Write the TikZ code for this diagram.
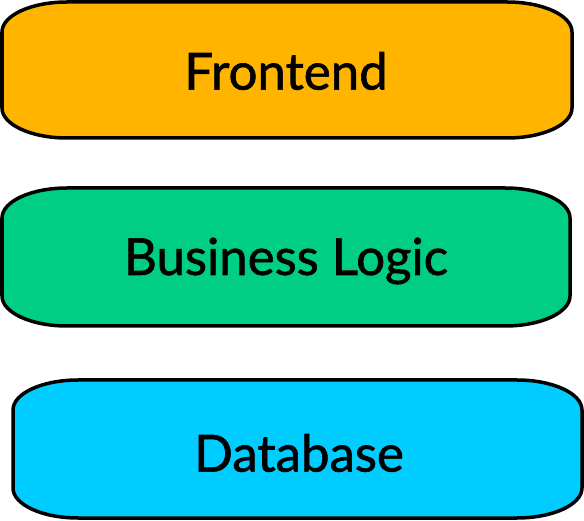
\documentclass[tikz,border=0pt]{standalone}
\usepackage{fontspec}
\setmainfont{Lato}
\newfontfamily\layerfont{Lato}[AutoFakeBold=1.2]
\usepackage{tikz}

\definecolor{frontorange}{RGB}{255,181,0}
\definecolor{logicgreen}{RGB}{0,206,132}
\definecolor{dbcyan}{RGB}{0,204,255}

% layer box with elliptic corners: x1,y1,x2,y2,colour
\newcommand{\layerbox}[5]{%
	\filldraw[layer,fill=#5] (#1+65,#2) -- (#3-65,#2)
		arc[start angle=-90,end angle=0,x radius=65,y radius=30] -- (#3,#4-30)
		arc[start angle=0,end angle=90,x radius=65,y radius=30] -- (#1+65,#4)
		arc[start angle=90,end angle=180,x radius=65,y radius=30] -- (#1,#2+30)
		arc[start angle=180,end angle=270,x radius=65,y radius=30] -- cycle;}

\tikzset{
	layer/.style={line width=3.5pt,line join=round},
	layertext/.style={font=\layerfont\bfseries\fontsize{51}{60}\selectfont,text=black}
}

\begin{document}
\begin{tikzpicture}[x=1pt,y=1pt]
			\useasboundingbox (0,0) rectangle (584,520);
			\layerbox{2}{382}{572}{518}{frontorange}
			\layerbox{2}{194}{570}{332}{logicgreen}
			\layerbox{13}{2}{582}{140}{dbcyan}
			\node[layertext] (front) at (286,449) {Frontend};
			\node[layertext] (logic) at (286,259) {Business Logic};
			\node[layertext] (db) at (299,67) {Database};
		\end{tikzpicture}
\end{document}
